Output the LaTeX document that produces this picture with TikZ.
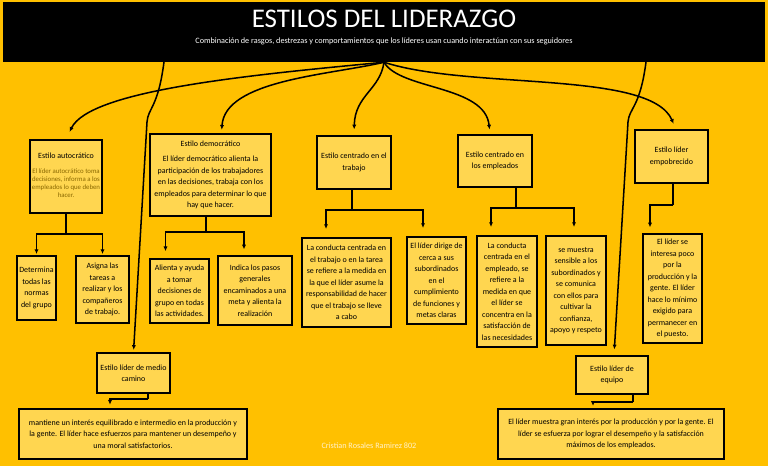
\documentclass[tikz,border=0pt]{standalone}
\usepackage{fontspec}
\setmainfont{Carlito}
\usetikzlibrary{arrows.meta,calc}
\definecolor{fondo}{HTML}{FFC000}
\definecolor{amarilloclaro}{HTML}{FFD650}
\definecolor{marron}{HTML}{8A6800}
\definecolor{crema}{HTML}{FFF2CC}
\newcommand{\cuerpo}{\fontsize{6.8}{9.8}\selectfont}
\newcommand{\chico}{\fontsize{5.8}{6.8}\selectfont}

\begin{document}
\begin{tikzpicture}[
  x=0.03cm,y=-0.03cm,
  caja/.style={draw=black,line width=1.4pt,fill=amarilloclaro,align=center,inner sep=0.5pt,font=\cuerpo},
  tam/.style 2 args={minimum width=#1*0.03cm,minimum height=#2*0.03cm},
  rama/.style={line width=1.6pt},
  flecha/.style={-{Latex[length=4pt,width=3.6pt]},line width=1.3pt}
]
  \fill[fondo] (0,0) rectangle (768,466);
  \useasboundingbox (0,0) rectangle (768,466);
  \node[fill=black,tam={762}{60},inner sep=0pt,align=center,text=white,
        font=\fontsize{7}{8}\selectfont] (titulo) at (384,32)
        {\fontsize{23}{23}\selectfont ESTILOS DEL LIDERAZGO\\[5pt]
         \fontsize{7}{8}\selectfont Combinación de rasgos, destrezas y comportamientos que los líderes usan cuando interactúan con sus seguidores\\[1pt]};
  \node[caja,tam={72}{73}] (auto) at (66,176.5)
        {Estilo autocrático\\[7pt]{\chico\color{marron}\begin{tabular}{@{}c@{}}El líder autocrático toma\\ decisiones, informa a los\\ empleados lo que deben\\ hacer.\end{tabular}}};
  \node[caja,tam={121}{82}] (demo) at (210.5,175)
        {Estilo democrático\\[3pt]El líder democrático alienta la\\ participación de los trabajadores\\ en las decisiones, trabaja con los\\ empleados para determinar lo que\\ hay que hacer.};
  \node[caja,tam={74}{53}] (trab) at (354,162.5) {Estilo centrado en el\\ trabajo};
  \node[caja,tam={74}{52}] (empl) at (495,161) {Estilo centrado en\\ los empleados};
  \node[caja,tam={73}{53}] (empob) at (671.5,156.5) {Estilo líder\\ empobrecido};
  \node[caja,tam={39}{64}] (det) at (36.5,288) {Determina\\ todas las\\ normas\\ del grupo};
  \node[caja,tam={53}{67}] (asig) at (102.5,289.5) {Asigna las\\ tareas a\\ realizar y los\\ compañeros\\ de trabajo.};
  \node[caja,tam={59}{64}] (alienta) at (179.5,291) {Alienta y ayuda\\ a tomar\\ decisiones de\\ grupo en todas\\ las actividades.};
  \node[caja,tam={74}{69}] (indica) at (255,290.5) {Indica los pasos\\ generales\\ encaminados a una\\ meta y alienta la\\ realización};
  \node[caja,tam={89}{89}] (conTrab) at (346.5,282.5) {La conducta centrada en\\ el trabajo o en la tarea\\ se refiere a la medida en\\ la que el líder asume la\\ responsabilidad de hacer\\ que el trabajo se lleve\\ a cabo};
  \node[caja,tam={59}{87}] (dirige) at (436.5,280.5) {El líder dirige de\\ cerca a sus\\ subordinados\\ en el\\ cumplimiento\\ de funciones y\\ metas claras};
  \node[caja,tam={60}{111}] (conEmpl) at (507,291.5) {La conducta\\ centrada en el\\ empleado, se\\ refiere a la\\ medida en que\\ el líder se\\ concentra en la\\ satisfacción de\\ las necesidades};
  \node[caja,tam={60}{109}] (sensible) at (576,290.5) {se muestra\\ sensible a los\\ subordinados y\\ se comunica\\ con ellos para\\ cultivar la\\ confianza,\\ apoyo y respeto};
  \node[caja,tam={59}{109}] (poco) at (672.5,288.5) {El líder se\\ interesa poco\\ por la\\ producción y la\\ gente. El líder\\ hace lo mínimo\\ exigido para\\ permanecer en\\ el puesto.};
  \node[caja,tam={73}{40}] (medio) at (133.5,373) {Estilo líder de medio\\ camino};
  \node[caja,tam={228}{50}] (equil) at (133,434) {mantiene un interés equilibrado e intermedio en la producción y\\ la gente. El líder hace esfuerzos para mantener un desempeño y\\ una moral satisfactorios.};
  \node[caja,tam={72}{38}] (equipo) at (612,375) {Estilo líder de\\ equipo};
  \node[caja,tam={226}{50}] (maximo) at (611,434) {El líder muestra gran interés por la producción y por la gente. El\\ líder se esfuerza por lograr el desempeño y la satisfacción\\ máximos de los empleados.};
  \node[text=crema,font=\fontsize{7}{8}\selectfont] (firma) at (369,446) {Cristian Rosales Ramirez 802};

  \coordinate (salidaIzq) at (164,62);
  \coordinate (codoIzq) at (147,122);
  \coordinate (salidaDer) at (646,62);
  \coordinate (codoDer) at (628,122);
  \coordinate (barAuto) at (66,234);
  \coordinate (barDemo) at (206,232);
  \coordinate (barTrab) at (352,210);
  \coordinate (barEmpl) at (516,208);
  \coordinate (barEmpob) at (673,205);
  \coordinate (barMedio) at (148,399);
  \coordinate (barEquipo) at (633,402);

  \draw[flecha,shorten >=7pt] (titulo.south) .. controls (250,75) and (90,90) .. (auto.north);
  \draw[flecha,shorten >=3pt] (titulo.south) .. controls (330,75) and (225,80) .. ($(demo.north)+(11,0)$);
  \draw[flecha,shorten >=5pt] (titulo.south) .. controls (380,90) and (355,95) .. (trab.north);
  \draw[flecha,shorten >=4pt] (titulo.south) .. controls (400,90) and (485,85) .. ($(empl.north)+(-5,0)$);
  \draw[flecha,shorten >=5pt] (titulo.south) .. controls (470,90) and (650,70) .. ($(empob.north)+(4.5,0)$);
  \draw[flecha,shorten >=2pt] (salidaIzq) .. controls (158,108) and (148,108) .. (codoIzq) -- (medio.north);
  \draw[flecha,shorten >=5pt] (salidaDer) .. controls (640,108) and (629,108) .. (codoDer) -- ($(equipo.north)+(2,0)$);

  \draw[rama] (auto.south) -- (barAuto);
  \draw[flecha,shorten >=1pt] (barAuto) -| (det.north);
  \draw[flecha,shorten >=1pt] (barAuto) -| (asig.north);
  \draw[rama] (demo.south -| barDemo) -- (barDemo);
  \draw[flecha,shorten >=6pt] (barDemo) -| ($(alienta.north)+(-14,0)$);
  \draw[flecha,shorten >=5pt] (barDemo) -| ($(indica.north)+(-11,0)$);
  \draw[rama] (trab.south -| barTrab) -- (barTrab);
  \draw[flecha,shorten >=7pt] (barTrab) -| ($(conTrab.north)+(-20.5,0)$);
  \draw[flecha,shorten >=7pt] (barTrab) -| ($(dirige.north)+(-13.5,0)$);
  \draw[rama] (empl.south -| barEmpl) -- (barEmpl);
  \draw[flecha,shorten >=7pt] (barEmpl) -| ($(conEmpl.north)+(-16,0)$);
  \draw[flecha,shorten >=7pt] (barEmpl) -| ($(sensible.north)+(-2,0)$);
  \draw[rama] (empob.south -| barEmpob) -- (barEmpob);
  \draw[flecha,shorten >=5pt] (barEmpob) -| ($(poco.north)+(-22.5,0)$);
  \draw[rama] (medio.south -| barMedio) -- (barMedio);
  \draw[flecha,shorten >=3pt] (barMedio) -| ($(equil.north)+(-23,0)$);
  \draw[rama] (equipo.south -| barEquipo) -- (barEquipo);
  \draw[flecha,shorten >=2pt] (barEquipo) -| ($(maximo.north)+(-18,0)$);
\end{tikzpicture}
\end{document}
